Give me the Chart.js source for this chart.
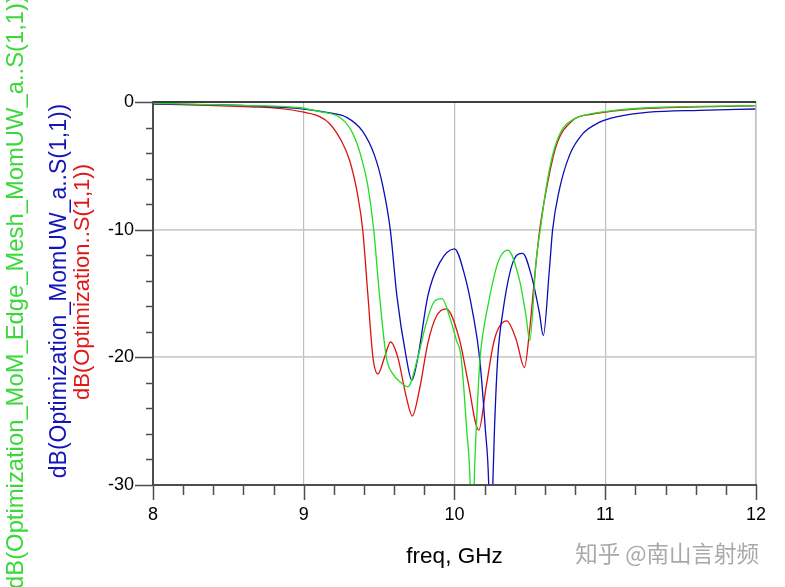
<!DOCTYPE html>
<html><head><meta charset="utf-8">
<script src="https://cdn.jsdelivr.net/npm/chart.js@4.4.1/dist/chart.umd.min.js"></script>
<style>html,body{margin:0;padding:0;background:#fff;overflow:hidden}#wrap{position:relative;width:785px;height:587px}</style>
</head><body><div id="wrap"><canvas id="c" width="785" height="587"></canvas></div>
<script>
// ---- data (freq in GHz, S11 in dB) ----
const greenFreq = [8.000, 8.311, 8.642, 8.974, 9.106, 9.238, 9.318, 9.371, 9.424, 9.464, 9.503, 9.548, 9.591, 9.647, 9.691, 9.757, 9.813, 9.868, 9.917, 9.967, 10.011, 10.044, 10.081, 10.104, 10.117, 10.130, 10.144, 10.170, 10.192, 10.221, 10.287, 10.353, 10.430, 10.475, 10.499, 10.541, 10.574, 10.607, 10.651, 10.707, 10.783, 10.894, 11.046, 11.291, 11.623, 12.000];
const greenDb   = [-0.1, -0.18, -0.28, -0.45, -0.75, -1.2, -2.3, -3.9, -6.5, -10, -15.2, -20, -21.3, -22, -22.3, -20, -17.3, -15.6, -15.4, -16.8, -18.6, -20, -25.7, -30, -38, -30, -25.7, -20, -17.9, -16.0, -12.6, -11.6, -13.9, -16.8, -18.7, -12.5, -9.6, -6.8, -4.15, -2.3, -1.4, -0.95, -0.68, -0.45, -0.35, -0.28];

const blueFreq = [8.000, 8.311, 8.642, 9.000, 9.172, 9.285, 9.391, 9.470, 9.523, 9.574, 9.618, 9.680, 9.717, 9.757, 9.823, 9.901, 10.000, 10.066, 10.121, 10.166, 10.205, 10.227, 10.240, 10.254, 10.265, 10.287, 10.320, 10.386, 10.452, 10.510, 10.563, 10.589, 10.629, 10.651, 10.695, 10.762, 10.850, 10.960, 11.082, 11.291, 11.623, 12.000];
const blueDb   = [-0.15, -0.2, -0.3, -0.55, -0.85, -1.2, -2.3, -4.2, -6.5, -10, -15.2, -20, -21.8, -20, -15.2, -12.6, -11.5, -13.5, -16.5, -20, -25.7, -30, -38, -30, -25.7, -20, -16.5, -12.6, -11.85, -13.6, -16.5, -18.3, -13.2, -10, -6.9, -4.2, -2.5, -1.6, -1.15, -0.8, -0.65, -0.55];

const redFreq = [8.000, 8.311, 8.642, 8.841, 9.000, 9.106, 9.172, 9.252, 9.305, 9.358, 9.391, 9.426, 9.459, 9.492, 9.536, 9.576, 9.624, 9.680, 9.720, 9.768, 9.823, 9.879, 9.945, 10.033, 10.088, 10.161, 10.210, 10.265, 10.346, 10.409, 10.464, 10.497, 10.530, 10.563, 10.607, 10.673, 10.783, 10.916, 11.048, 11.291, 11.623, 12.000];
const redDb   = [-0.15, -0.25, -0.38, -0.5, -0.8, -1.15, -1.7, -3.1, -4.6, -7.3, -10, -15.2, -20, -21.3, -20, -18.8, -20, -23.1, -24.6, -22.5, -18.9, -16.8, -16.2, -18.6, -21.8, -25.7, -22.3, -18.6, -17.15, -18.6, -20.8, -18, -13.9, -10.2, -7, -3.5, -1.45, -0.95, -0.72, -0.5, -0.38, -0.3];

const xTicks = [8, 9, 10, 11, 12];
const yTicks = [0, -10, -20, -30];
const xMinorStep = 0.2;
const yMinorStep = 2;

const titleGreen = 'dB(Optimization_MoM_Edge_Mesh_MomUW_a..S(1,1))';
const titleBlue  = 'dB(Optimization_MomUW_a..S(1,1))';
const titleRed   = 'dB(Optimization..S(1,1))';
const xTitle = 'freq, GHz';
const watermark = '知乎 @南山言射频';

const GREEN = '#22dd22', BLUE = '#0c0cb8', RED = '#dd1111';
const FONT = "'Liberation Sans', Arial, sans-serif";

const zip = (xs, ys) => xs.map((v, i) => ({x: v, y: ys[i]}));

const overlay = {
  id: 'overlay',
  afterDraw(chart) {
    const {ctx, chartArea: a, scales: {x, y}} = chart;
    ctx.save();
    // right border
    ctx.strokeStyle = '#c6c6c6'; ctx.lineWidth = 1.5;
    ctx.beginPath(); ctx.moveTo(a.right, a.top); ctx.lineTo(a.right, a.bottom); ctx.stroke();
    // top border (0 dB)
    ctx.strokeStyle = '#000'; ctx.lineWidth = 1.5;
    ctx.beginPath(); ctx.moveTo(a.left, a.top); ctx.lineTo(a.right, a.top); ctx.stroke();
    // axes
    ctx.strokeStyle = '#4e4e4e'; ctx.lineWidth = 2;
    ctx.beginPath(); ctx.moveTo(a.left, a.top - 1); ctx.lineTo(a.left, a.bottom); ctx.lineTo(a.right + 1, a.bottom); ctx.stroke();
    ctx.lineWidth = 1.5;
    // y ticks
    ctx.beginPath();
    for (let v = y.max; v >= y.min - 1e-9; v -= yMinorStep) {
      const py = Math.round(y.getPixelForValue(v)) + 0.5;
      const major = Math.abs(v % 10) < 1e-6;
      ctx.moveTo(a.left - (major ? 18 : 7), py); ctx.lineTo(a.left, py);
    }
    ctx.stroke();
    // x ticks
    ctx.beginPath();
    const n = Math.round((x.max - x.min) / xMinorStep);
    for (let i = 0; i <= n; i++) {
      const v = x.min + i * xMinorStep;
      const px = Math.round(x.getPixelForValue(v)) + 0.5;
      const major = i % 5 === 0;
      ctx.moveTo(px, a.bottom); ctx.lineTo(px, a.bottom + (major ? 15 : 10));
    }
    ctx.stroke();
    // x title
    ctx.fillStyle = '#000';
    ctx.font = '22.5px ' + FONT;
    ctx.textAlign = 'center'; ctx.textBaseline = 'alphabetic';
    ctx.fillText(xTitle, (a.left + a.right) / 2, 563);
    // y titles (rotated)
    const rot = (txt, bx, cy, color, size) => {
      ctx.save();
      ctx.translate(bx, cy); ctx.rotate(-Math.PI / 2);
      ctx.fillStyle = color; ctx.font = size + 'px ' + FONT;
      ctx.textAlign = 'center'; ctx.textBaseline = 'alphabetic';
      ctx.fillText(txt, 0, 0);
      ctx.restore();
    };
    rot(titleGreen, 23, 292, '#3ad83a', 23.8);
    rot(titleBlue, 66, 291, '#1414bb', 23);
    rot(titleRed, 89, 282, '#e01818', 22);
    // watermark
    ctx.font = "22.5px 'Noto Sans CJK SC', sans-serif";
    ctx.textAlign = 'right'; ctx.textBaseline = 'middle';
    ctx.fillStyle = '#ffffff';
    ctx.fillText(watermark, 760, 554);
    ctx.fillStyle = '#a9a9a9';
    ctx.fillText(watermark, 759, 553);
    ctx.restore();
  }
};

new Chart(document.getElementById('c'), {
  type: 'line',
  data: {
    datasets: [
      {label: 'green', data: zip(greenFreq, greenDb), borderColor: GREEN},
      {label: 'blue', data: zip(blueFreq, blueDb), borderColor: BLUE},
      {label: 'red', data: zip(redFreq, redDb), borderColor: RED}
    ].map(d => Object.assign(d, {borderWidth: 1.3, pointRadius: 0, fill: false, cubicInterpolationMode: 'monotone'}))
  },
  options: {
    responsive: false, animation: false, devicePixelRatio: 1,
    layout: {padding: {left: 0, right: 28, top: 102, bottom: 0}},
    plugins: {legend: {display: false}, tooltip: {enabled: false}},
    scales: {
      x: {
        type: 'linear', min: 8, max: 12,
        afterBuildTicks: s => { s.ticks = xTicks.map(v => ({value: v})); },
        afterFit: s => { s.height = 102; },
        ticks: {color: '#000', font: {family: FONT, size: 18}, padding: 19, maxRotation: 0, autoSkip: false},
        grid: {drawTicks: false, lineWidth: 1.2, color: c => (c.tick && c.tick.value === 8) ? 'rgba(0,0,0,0)' : '#bdbdbd'},
        border: {display: false}
      },
      y: {
        type: 'linear', min: -30, max: 0,
        afterBuildTicks: s => { s.ticks = yTicks.map(v => ({value: v})); },
        afterFit: s => { s.width = 153; },
        ticks: {color: '#000', font: {family: FONT, size: 18}, padding: 19, autoSkip: false},
        grid: {drawTicks: false, lineWidth: 1.8, color: c => (c.tick && (c.tick.value === 0 || c.tick.value === -30)) ? 'rgba(0,0,0,0)' : '#cdcdcd'},
        border: {display: false}
      }
    }
  },
  plugins: [overlay]
});
</script></body></html>
